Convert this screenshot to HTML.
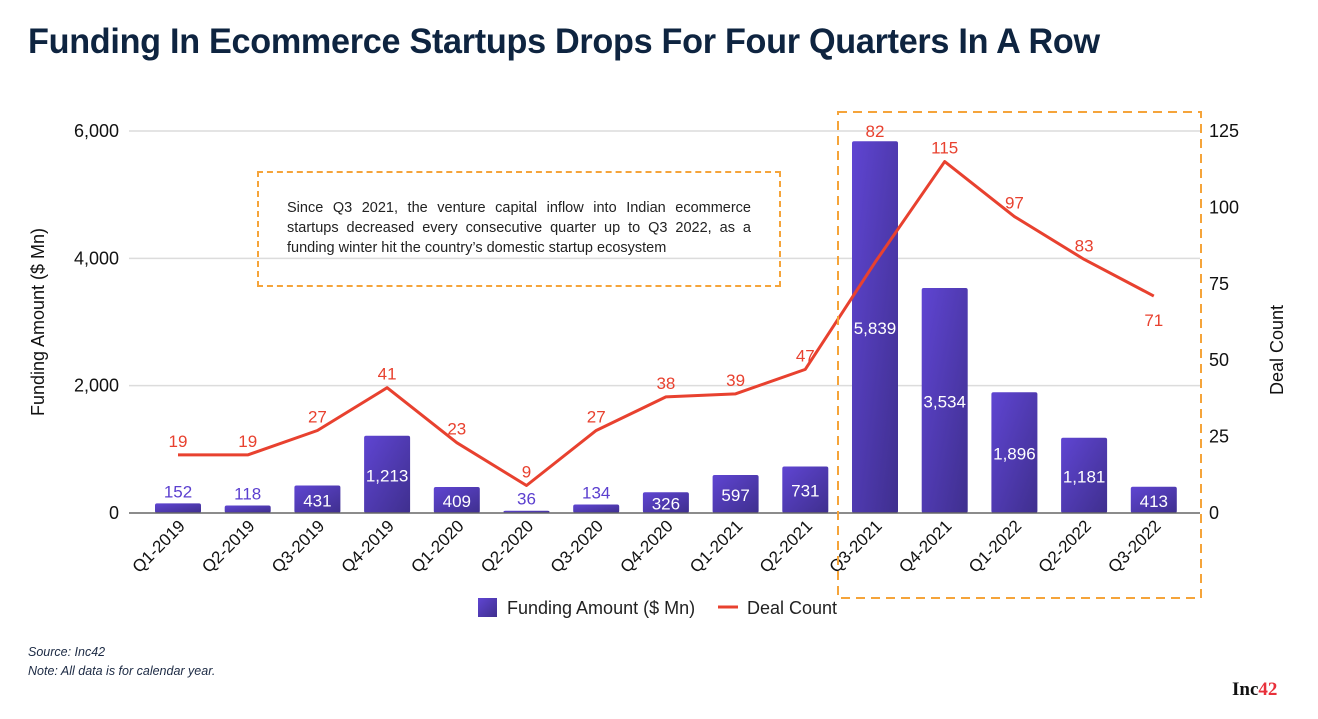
<!DOCTYPE html>
<html><head><meta charset="utf-8"><style>
body{margin:0;background:#fff;width:1318px;height:719px;overflow:hidden;font-family:"Liberation Sans",sans-serif;position:relative}
#title{position:absolute;left:28px;top:22px;font-size:35px;font-weight:bold;color:#0e2440;letter-spacing:-0.3px;white-space:nowrap;transform:scaleX(0.977);transform-origin:left}
#note{position:absolute;left:28px;top:643px;font-size:12.5px;font-style:italic;color:#1c2a44;line-height:19px}
#logo{position:absolute;left:1232px;top:679px;font-family:"Liberation Serif",serif;font-weight:bold;font-size:19px;color:#111}
#ann{position:absolute;left:257px;top:171px;width:524px;height:116px;box-sizing:border-box;border:2px dashed #f5a43a;font-size:14.5px;color:#222;padding:25px 28px 0 28px;text-align:justify;line-height:20px}
</style></head><body>
<div id="title">Funding In Ecommerce Startups Drops For Four Quarters In A Row</div>
<svg id="chart" width="1318" height="719" style="position:absolute;left:0;top:0">
<defs><linearGradient id="bg" x1="0" y1="0" x2="1" y2="1"><stop offset="0" stop-color="#5f45d2"/><stop offset="1" stop-color="#3f2f8e"/></linearGradient></defs>
<g id="grid"></g><g id="bars"></g><g id="line"></g><g id="axes"></g>
<rect x="838" y="112" width="363" height="486" fill="none" stroke="#f5a43a" stroke-width="2" stroke-dasharray="9,6"/>
<text x="0" y="0" transform="translate(44,322) rotate(-90)" text-anchor="middle" font-size="18" fill="#111">Funding Amount ($ Mn)</text>
<text x="0" y="0" transform="translate(1283,350) rotate(-90)" text-anchor="middle" font-size="18" fill="#111">Deal Count</text>
<g>
<rect x="478" y="598" width="19" height="19" fill="url(#bg)"/>
<text x="507" y="614" font-size="18" fill="#222">Funding Amount ($ Mn)</text>
<line x1="718" y1="607" x2="738" y2="607" stroke="#e8412f" stroke-width="3"/>
<text x="747" y="614" font-size="18" fill="#222">Deal Count</text>
</g>
</svg>
<div id="ann">Since Q3 2021, the venture capital inflow into Indian ecommerce startups decreased every consecutive quarter up to Q3 2022, as a funding winter hit the country’s domestic startup ecosystem</div>
<div id="note">Source: Inc42<br>Note: All data is for calendar year.</div>
<div id="logo">Inc<span style="color:#e8303a">42</span></div>
<script>
const categories=["Q1-2019","Q2-2019","Q3-2019","Q4-2019","Q1-2020","Q2-2020","Q3-2020","Q4-2020","Q1-2021","Q2-2021","Q3-2021","Q4-2021","Q1-2022","Q2-2022","Q3-2022"];
const funding=[152,118,431,1213,409,36,134,326,597,731,5839,3534,1896,1181,413];
const deals=[19,19,27,41,23,9,27,38,39,47,82,115,97,83,71];
const leftTicks=[0,2000,4000,6000];
const rightTicks=[0,25,50,75,100,125];
const NS="http://www.w3.org/2000/svg";
const y0=513,yTop=131,x0=178,step=69.7,bw=46;
const xS=i=>x0+i*step;
const yL=v=>y0-(v/6000)*(y0-yTop);
const yR=v=>y0-(v/125)*(y0-yTop);
function mk(tag,attrs,parent,txt){const e=document.createElementNS(NS,tag);for(const k in attrs)e.setAttribute(k,attrs[k]);if(txt!==undefined)e.textContent=txt;document.getElementById(parent).appendChild(e);return e;}
const fmt=v=>v.toLocaleString("en-US");
leftTicks.forEach(t=>{
 if(t>0){const g=mk("line",{x1:129,x2:1200,y1:yL(t),y2:yL(t),stroke:"#dcdcdc","stroke-width":1.5},"grid");
 
 }
 const l=mk("text",{x:119,y:yL(t)+6,"text-anchor":"end","font-size":18,fill:"#111"},"axes",fmt(t));
 
 
});
rightTicks.forEach(t=>{
 const l=mk("text",{x:1209,y:yR(t)+6,"font-size":18,fill:"#111"},"axes",t);
 
 
});
const base=mk("line",{x1:129,x2:1200,y1:y0,y2:y0,stroke:"#666","stroke-width":1.5},"axes");


categories.forEach((c,i)=>{
 const x=xS(i),v=funding[i],top=yL(v);
 const r=mk("rect",{x:x-bw/2,y:top,width:bw,height:y0-top,fill:"url(#bg)",rx:2},"bars");
 
 
 const h=y0-top;let lb;
 if(h<20){lb=mk("text",{x:x,y:top-6,"text-anchor":"middle","font-size":17,fill:"#5b3fcf"},"bars",fmt(v));}
 else{lb=mk("text",{x:x,y:(top+y0)/2+7,"text-anchor":"middle","font-size":17,fill:"#fff"},"bars",fmt(v));}
 
 
 const xl=mk("text",{transform:`translate(${x+8},527) rotate(-45)`,"text-anchor":"end","font-size":17,fill:"#111"},"axes",c);
 
 
});
const pts=deals.map((d,i)=>xS(i)+","+yR(d)).join(" ");
const pl=mk("polyline",{points:pts,fill:"none",stroke:"#e8412f","stroke-width":3,"stroke-linejoin":"round"},"line");


deals.forEach((d,i)=>{
 let y=yR(d)-8;
 if(i===10)y=yTop+6;
 if(i===deals.length-1)y=yR(d)+30;
 const t=mk("text",{x:xS(i),y:y,"text-anchor":"middle","font-size":17,fill:"#e8412f"},"line",d);
 
 
});
</script>
</body></html>
